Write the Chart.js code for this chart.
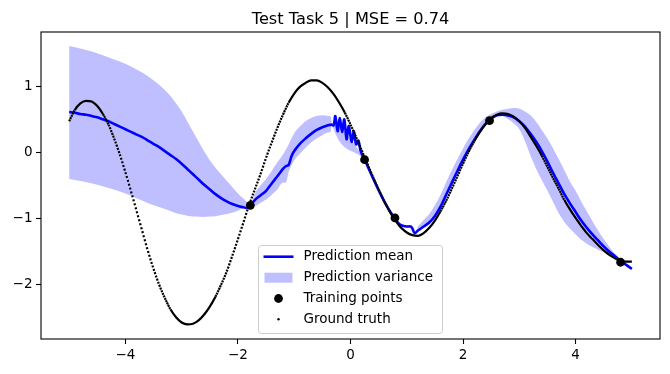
<!DOCTYPE html>
<html>
<head>
<meta charset="utf-8">
<title>Test Task 5</title>
<script src="https://cdn.jsdelivr.net/npm/chart.js@4.4.1/dist/chart.umd.min.js"></script>
<style>
  html, body { margin: 0; padding: 0; background: #fff; }
  canvas { display: block; }
</style>
</head>
<body>
<canvas id="myChart" width="670" height="374"></canvas>
<script>
"use strict";

const title = "Test Task 5 | MSE = 0.74";

// ground truth
const truthX = [
  -5.0, -4.9, -4.8, -4.7, -4.6, -4.5, -4.4, -4.3, -4.2, -4.1,
  -4.0, -3.9, -3.8, -3.7, -3.6, -3.5, -3.4, -3.3, -3.2, -3.1,
  -3.0, -2.9, -2.8, -2.7, -2.6, -2.5, -2.4, -2.3, -2.2, -2.1,
  -2.0, -1.9, -1.8, -1.7, -1.6, -1.5, -1.4, -1.3, -1.2, -1.1,
  -1.0, -0.9, -0.8, -0.7, -0.6, -0.5, -0.4, -0.3, -0.2, -0.1,
  0.0, 0.1, 0.2, 0.3, 0.4, 0.5, 0.6, 0.7, 0.8, 0.9,
  1.0, 1.1, 1.2, 1.3, 1.4, 1.5, 1.6, 1.7, 1.8, 1.9,
  2.0, 2.1, 2.2, 2.3, 2.4, 2.5, 2.6, 2.7, 2.8, 2.9,
  3.0, 3.1, 3.2, 3.3, 3.4, 3.5, 3.6, 3.7, 3.8, 3.9,
  4.0, 4.1, 4.2, 4.3, 4.4, 4.5, 4.6, 4.7, 4.8, 4.9, 5.0,
];
const truthY = [
  0.47, 0.64, 0.74, 0.78, 0.77, 0.70, 0.58, 0.42, 0.21, -0.03,
  -0.30, -0.59, -0.89, -1.19, -1.49, -1.76, -2.0, -2.2, -2.37, -2.49,
  -2.57, -2.6, -2.59, -2.54, -2.45, -2.33, -2.18, -2.0, -1.8, -1.56,
  -1.31, -1.05, -0.79, -0.56, -0.33, -0.08, 0.15, 0.37, 0.57, 0.75,
  0.89, 0.99, 1.05, 1.09, 1.09, 1.05, 0.98, 0.88, 0.75, 0.60,
  0.42, 0.23, 0.03, -0.17, -0.37, -0.56, -0.74, -0.90, -1.03, -1.14,
  -1.21, -1.25, -1.26, -1.22, -1.14, -1.03, -0.89, -0.73, -0.55, -0.36,
  -0.17, 0.01, 0.17, 0.31, 0.43, 0.52, 0.57, 0.59, 0.58, 0.54,
  0.47, 0.37, 0.24, 0.10, -0.05, -0.22, -0.39, -0.55, -0.72, -0.86,
  -0.99, -1.11, -1.22, -1.31, -1.40, -1.48, -1.55, -1.60, -1.64, -1.65, -1.65,
];

// prediction mean (blue line)
const meanX = [
  -5.0, -4.9, -4.8, -4.7, -4.6, -4.5, -4.4, -4.3, -4.2, -4.1,
  -4.0, -3.9, -3.8, -3.7, -3.6, -3.5, -3.4, -3.3, -3.2, -3.1,
  -3.0, -2.9, -2.8, -2.7, -2.6, -2.5, -2.4, -2.3, -2.2, -2.1,
  -2.0, -1.9, -1.84, -1.78, -1.7, -1.6, -1.5, -1.4, -1.3, -1.2,
  -1.15, -1.1, -1.05, -1.0, -0.9, -0.8, -0.7, -0.6, -0.5, -0.4,
  -0.34, -0.3, -0.27, -0.23, -0.19, -0.15, -0.11, -0.07, -0.03, 0.02,
  0.06, 0.1, 0.14, 0.18, 0.25, 0.3, 0.4, 0.5, 0.6, 0.7,
  0.78, 0.85, 0.9, 1.0, 1.07, 1.1, 1.14, 1.2, 1.3, 1.4,
  1.5, 1.6, 1.7, 1.8, 1.9, 2.0, 2.1, 2.2, 2.3, 2.4,
  2.5, 2.6, 2.7, 2.8, 2.9, 3.0, 3.1, 3.2, 3.3, 3.4,
  3.5, 3.6, 3.7, 3.8, 3.9, 4.0, 4.1, 4.2, 4.3, 4.4,
  4.5, 4.6, 4.7, 4.8, 4.9, 5.0,
];
const meanY = [
  0.61, 0.60, 0.58, 0.57, 0.55, 0.53, 0.50, 0.47, 0.43, 0.39,
  0.35, 0.31, 0.27, 0.23, 0.18, 0.13, 0.08, 0.02, -0.04, -0.10,
  -0.17, -0.25, -0.33, -0.41, -0.49, -0.56, -0.63, -0.69, -0.74, -0.78,
  -0.81, -0.83, -0.84, -0.80, -0.72, -0.65, -0.58, -0.47, -0.36, -0.25,
  -0.21, -0.19, -0.06, 0.02, 0.13, 0.21, 0.28, 0.34, 0.38, 0.41,
  0.42, 0.41, 0.55, 0.32, 0.52, 0.31, 0.50, 0.20, 0.40, 0.16,
  0.32, 0.12, 0.18, 0.02, -0.11, -0.20, -0.39, -0.57, -0.74, -0.89,
  -0.99, -1.07, -1.10, -1.12, -1.12, -1.15, -1.22, -1.18, -1.12, -1.06,
  -0.96, -0.82, -0.64, -0.46, -0.28, -0.11, 0.05, 0.19, 0.32, 0.43,
  0.51, 0.56, 0.57, 0.56, 0.53, 0.47, 0.39, 0.28, 0.16, 0.02,
  -0.14, -0.31, -0.47, -0.63, -0.77, -0.90, -1.03, -1.14, -1.24, -1.33,
  -1.42, -1.50, -1.57, -1.64, -1.70, -1.76,
];

// prediction variance band (upper / lower edge)
const bandX = [
  -5.0, -4.75, -4.5, -4.25, -4.0, -3.75, -3.5, -3.25, -3.125, -3.0,
  -2.875, -2.75, -2.625, -2.5, -2.375, -2.25, -2.0, -1.9, -1.78, -1.7,
  -1.6, -1.5, -1.4, -1.3, -1.2, -1.15, -1.1, -1.0, -0.9, -0.8,
  -0.7, -0.6, -0.5, -0.4, -0.35, -0.33, 0.25, 0.5, 0.78, 1.14,
  1.2, 1.3, 1.4, 1.5, 1.6, 1.7, 1.8, 1.9, 2.0, 2.1,
  2.2, 2.3, 2.4, 2.5, 2.6, 2.7, 2.8, 2.9, 3.0, 3.1,
  3.2, 3.3, 3.4, 3.5, 3.6, 3.7, 3.8, 3.9, 4.0, 4.1,
  4.2, 4.3, 4.4, 4.5, 4.6, 4.7, 4.8, 4.9, 5.0,
];
const bandUpper = [
  1.61, 1.56, 1.50, 1.42, 1.34, 1.23, 1.09, 0.90, 0.77, 0.62,
  0.43, 0.24, 0.05, -0.12, -0.26, -0.38, -0.62, -0.70, -0.78, -0.62,
  -0.50, -0.40, -0.28, -0.15, -0.03, 0.04, 0.12, 0.29, 0.39, 0.47,
  0.52, 0.55, 0.56, 0.55, 0.54, 0.42, -0.11, -0.57, -0.99, -1.22,
  -1.12, -1.02, -0.93, -0.80, -0.64, -0.45, -0.27, -0.10, 0.06, 0.21,
  0.34, 0.45, 0.53, 0.58, 0.62, 0.645, 0.66, 0.67, 0.66, 0.62,
  0.56, 0.46, 0.34, 0.21, 0.06, -0.10, -0.27, -0.44, -0.58, -0.74,
  -0.89, -1.04, -1.18, -1.31, -1.43, -1.53, -1.62, -1.69, -1.75,
];
const bandLower = [
  -0.40, -0.44, -0.49, -0.55, -0.62, -0.71, -0.80, -0.87, -0.91, -0.94,
  -0.96, -0.97, -0.975, -0.97, -0.96, -0.94, -0.88, -0.84, -0.81, -0.81,
  -0.76, -0.71, -0.64, -0.56, -0.46, -0.46, -0.30, -0.12, -0.02, 0.07,
  0.15, 0.21, 0.26, 0.30, 0.32, 0.42, -0.11, -0.57, -0.99, -1.22,
  -1.19, -1.13, -1.07, -0.97, -0.83, -0.65, -0.47, -0.29, -0.12, 0.04,
  0.18, 0.31, 0.42, 0.50, 0.55, 0.55, 0.50, 0.44, 0.35, 0.17,
  -0.05, -0.25, -0.42, -0.58, -0.75, -0.92, -1.05, -1.15, -1.24, -1.32,
  -1.38, -1.43, -1.47, -1.51, -1.54, -1.58, -1.65, -1.71, -1.77,
];

// training points
const trainX = [-1.78, 0.25, 0.79, 2.47, 4.8];
const trainY = [-0.8, -0.11, -0.99, 0.48, -1.66];

const xTicks = [-4, -2, 0, 2, 4];
const yTicks = [-2, -1, 0, 1];

const FONT = "'DejaVu Sans', sans-serif";
const BAND_COLOR = "rgba(0, 0, 255, 0.25)";

function toPoints(xs, ys) {
  return xs.map((x, i) => ({ x: x, y: ys[i] }));
}

function minusLabel(v) {
  return v < 0 ? "\u2212" + Math.abs(v) : String(v);
}

// 'k.' markers sit ~1.1px apart in x: solid where flat, dotted where steep
function truthDash(seg) {
  const dx = seg.p1.x - seg.p0.x;
  const dy = seg.p1.y - seg.p0.y;
  const step = 1.13 * Math.sqrt(1 + (dy / dx) * (dy / dx));
  return step <= 2.3 ? [] : [2, step - 2];
}

const framePlugin = {
  id: "frame",
  afterDraw(chart) {
    const c = chart.ctx;
    const a = chart.chartArea;
    c.save();
    c.strokeStyle = "#000";
    c.lineWidth = 1.1;
    c.strokeRect(a.left, a.top, a.right - a.left, a.bottom - a.top);

    c.fillStyle = "#000";
    c.font = "16.2px " + FONT;
    c.textAlign = "center";
    c.textBaseline = "alphabetic";
    c.fillText(title, (a.left + a.right) / 2, 24);
    c.restore();
  },
};

// matplotlib style legend box inside the axes
const legendPlugin = {
  id: "boxLegend",
  afterDraw(chart) {
    const c = chart.ctx;
    const ds = chart.data.datasets;
    const bx = 258.5, by = 245.5, bw = 184, bh = 88;
    const rows = [256.7, 277.7, 298.5, 319.3];
    const hx = 278.5;
    c.save();
    c.beginPath();
    c.roundRect(bx, by, bw, bh, 3);
    c.fillStyle = "rgba(255, 255, 255, 0.8)";
    c.fill();
    c.strokeStyle = "#cccccc";
    c.lineWidth = 1;
    c.stroke();

    // mean line
    c.strokeStyle = ds[0].borderColor;
    c.lineWidth = ds[0].borderWidth;
    c.beginPath();
    c.moveTo(hx - 15, rows[0]);
    c.lineTo(hx + 15, rows[0]);
    c.stroke();
    // variance patch
    c.fillStyle = BAND_COLOR;
    c.fillRect(hx - 14, rows[1] - 5, 28, 10);
    // training marker
    c.fillStyle = "#000";
    c.beginPath();
    c.arc(hx, rows[2], 4.4, 0, Math.PI * 2);
    c.fill();
    // ground truth marker
    c.beginPath();
    c.arc(hx, rows[3], 1.2, 0, Math.PI * 2);
    c.fill();

    c.font = "13.5px " + FONT;
    c.textAlign = "left";
    c.textBaseline = "middle";
    [ds[0].label, ds[1].label, ds[3].label, ds[4].label].forEach((t, i) => {
      c.fillText(t, 303.5, rows[i]);
    });
    c.restore();
  },
};

const axisTicks = {
  display: true,
  drawOnChartArea: false,
  drawTicks: true,
  tickLength: 5,
  tickWidth: 1.1,
  tickColor: "#000",
};

new Chart("myChart", {
  type: "line",
  data: {
    datasets: [
      {
        label: "Prediction mean",
        data: toPoints(meanX, meanY),
        borderColor: "#0000ff",
        borderWidth: 2.6,
        borderJoinStyle: "round",
        pointRadius: 0,
        tension: 0.3,
        fill: false,
        order: 3,
      },
      {
        label: "Prediction variance",
        data: toPoints(bandX, bandUpper),
        borderWidth: 0,
        borderColor: "rgba(0, 0, 0, 0)",
        backgroundColor: BAND_COLOR,
        pointRadius: 0,
        cubicInterpolationMode: "monotone",
        fill: "+1",
        order: 5,
      },
      {
        label: "lower",
        data: toPoints(bandX, bandLower),
        borderWidth: 0,
        borderColor: "rgba(0, 0, 0, 0)",
        pointRadius: 0,
        cubicInterpolationMode: "monotone",
        fill: false,
        order: 6,
      },
      {
        label: "Training points",
        data: toPoints(trainX, trainY),
        showLine: false,
        pointRadius: 4.4,
        pointBackgroundColor: "#000",
        pointBorderWidth: 0,
        order: 1,
      },
      {
        label: "Ground truth",
        data: toPoints(truthX, truthY),
        borderColor: "#000",
        borderWidth: 2.2,
        pointRadius: 0,
        cubicInterpolationMode: "monotone",
        segment: { borderDash: truthDash },
        fill: false,
        order: 2,
      },
    ],
  },
  options: {
    responsive: false,
    devicePixelRatio: 1,
    animation: false,
    events: [],
    layout: { padding: { left: 0, right: 10, top: 32, bottom: 0 } },
    scales: {
      x: {
        type: "linear",
        min: -5.5,
        max: 5.5,
        afterFit: (s) => { s.height = 35; },
        afterBuildTicks: (s) => { s.ticks = xTicks.map((v) => ({ value: v })); },
        grid: axisTicks,
        border: { display: false },
        ticks: {
          color: "#000",
          padding: 3,
          maxRotation: 0,
          font: { family: FONT, size: 13.5 },
          callback: minusLabel,
        },
      },
      y: {
        type: "linear",
        min: -2.82,
        max: 1.82,
        afterFit: (s) => { s.width = 41; },
        afterBuildTicks: (s) => { s.ticks = yTicks.map((v) => ({ value: v })); },
        grid: axisTicks,
        border: { display: false },
        ticks: {
          color: "#000",
          padding: 3.5,
          font: { family: FONT, size: 13.5 },
          callback: minusLabel,
        },
      },
    },
    plugins: {
      legend: { display: false },
      title: { display: false },
      tooltip: { enabled: false },
    },
  },
  plugins: [framePlugin, legendPlugin],
});
</script>
</body>
</html>
